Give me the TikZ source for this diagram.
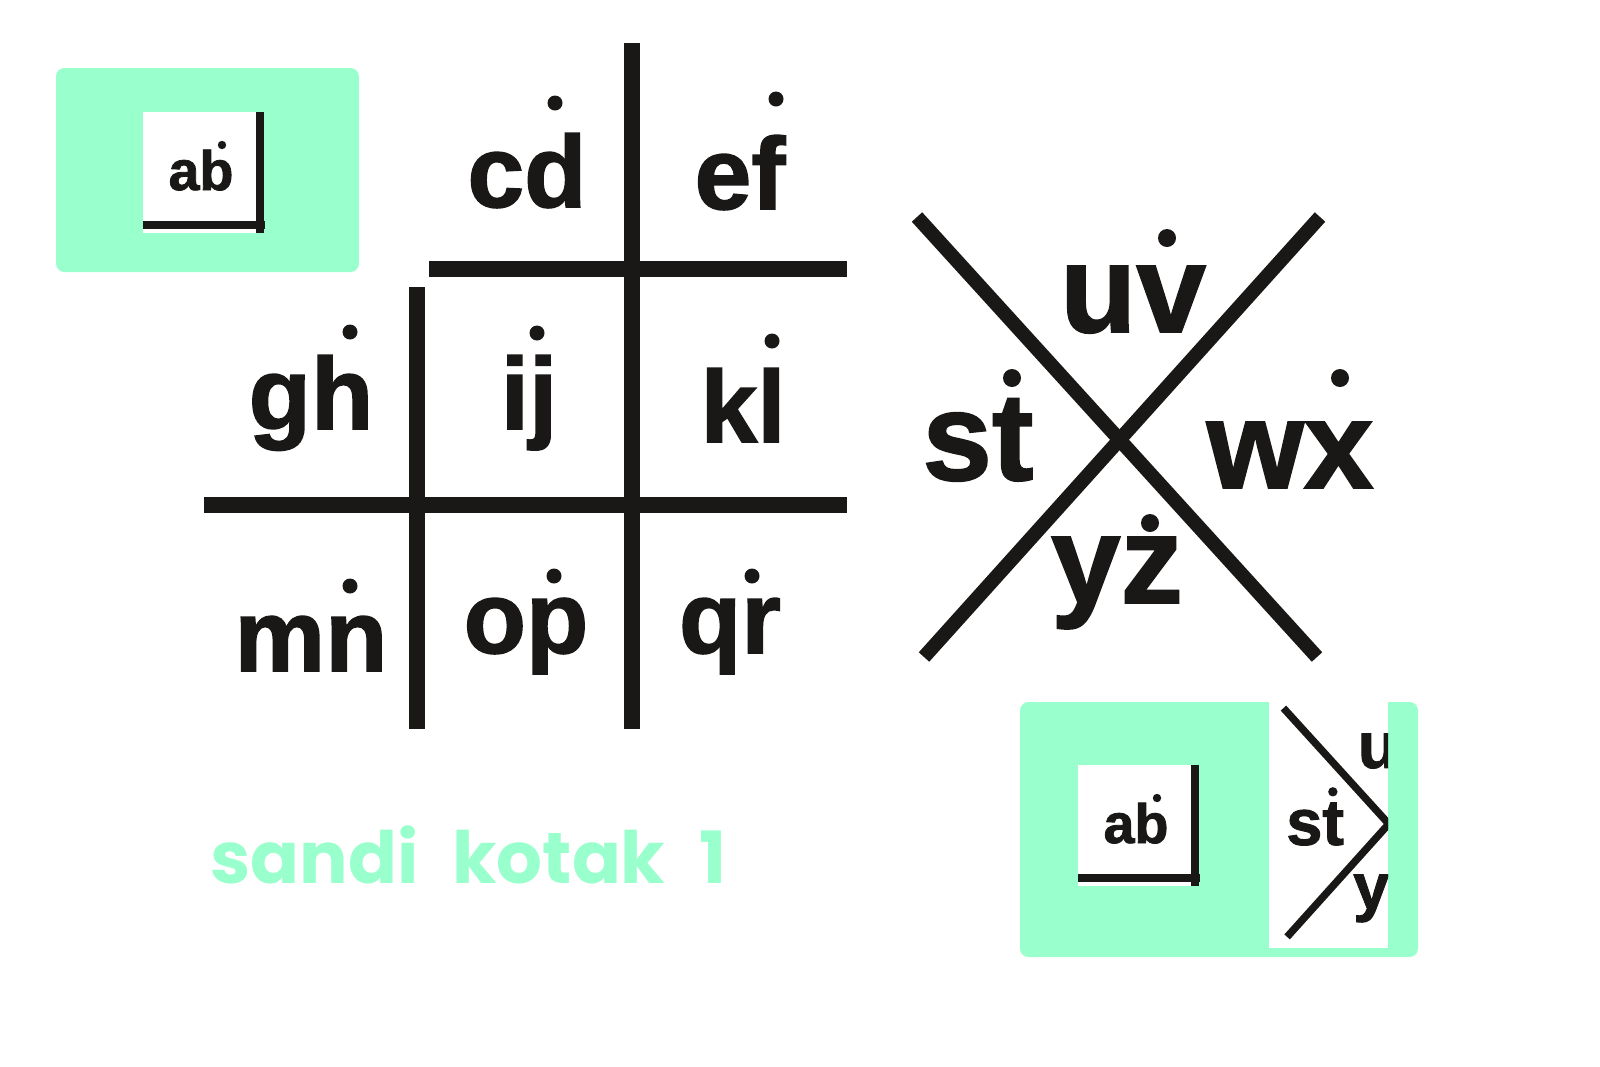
\documentclass[tikz,border=0pt]{standalone}
\usepackage{fontspec}
\setmainfont{Liberation Sans}[BoldFeatures={FakeBold=1.5}]
\newfontfamily\titlefont{Poppins}[WordSpace=2.2]
\usetikzlibrary{positioning}
\definecolor{skmint}{RGB}{153,255,204}
\definecolor{skblack}{RGB}{26,24,22}
\tikzset{
  bar/.style={line width=4.3pt, color=skblack},
  xbar/.style={line width=4pt, color=skblack},
  abbar/.style={line width=2.2pt, color=skblack},
  gridtxt/.style={anchor=base, inner sep=0pt, text=skblack, font=\bfseries\fontsize{29}{30}\selectfont},
  xtxt/.style={anchor=base, inner sep=0pt, text=skblack, font=\bfseries\fontsize{35.5}{36}\selectfont},
  abtxt/.style={anchor=base, inner sep=0pt, text=skblack, font=\bfseries\fontsize{15.8}{16}\selectfont},
  titletxt/.style={anchor=base west, inner sep=0pt, text=skmint, font=\titlefont\bfseries\fontsize{20.5}{21}\selectfont},
  greenbox/.style={fill=skmint, rounded corners=2.4pt},
  % white square with the ab letters
  pics/abbox/.style={code={
    \fill[white] (0,0) rectangle (121,121);
    \draw[abbar] (117,0) -- (117,121);
    \draw[abbar] (0,113) -- (122,113);
    \node[abtxt] (-txt) at (58,78) {ab};
    \fill[skblack] (79,33) circle (4.2);
  }},
  % the X with its four pairs
  pics/sandix/.style={code={
    \draw[xbar] (-203,-221) -- (197,219);
    \draw[xbar] (200,-221) -- (-196,219);
    \node[xtxt] (-uv) at (13,-106) {uv};
    \node[xtxt] (-st) at (-142,42) {st};
    \node[xtxt] (-wx) at (170,50) {wx};
    \node[xtxt] (-yz) at (-3,165) {yz};
    \fill[skblack] (47,-200) circle (9);
    \fill[skblack] (-108,-60) circle (9);
    \fill[skblack] (220,-60) circle (9);
    \fill[skblack] (30,85) circle (9);
  }},
}

\begin{document}
\begin{tikzpicture}[x=0.01cm, y=-0.01cm]
\useasboundingbox (0,0) rectangle (1600,1066);

% Top left example
\fill[greenbox] (56,68) rectangle (359,272);
\pic (abtop) at (143,112) {abbox};

% Grid
\draw[bar] (632,43) -- (632,729);
\draw[bar] (417,287) -- (417,729);
\draw[bar] (429,269) -- (847,269);
\draw[bar] (204,505) -- (847,505);

\node[gridtxt] (cd) at (527,207) {cd};
\node[gridtxt] (ef) at (740,209) {ef};
\node[gridtxt] (gh) at (311,429) {gh};
\node[gridtxt] (ij) at (529,429) {ij};
\node[gridtxt] (kl) at (743,442) {kl};
\node[gridtxt] (mn) at (311,671) {mn};
\node[gridtxt] (op) at (526,653) {op};
\node[gridtxt] (qr) at (730,653) {qr};

\fill[skblack] (555,103) circle (7.5);
\fill[skblack] (776,99) circle (7.5);
\fill[skblack] (350,332) circle (7.5);
\fill[skblack] (537,333) circle (7.5);
\fill[skblack] (772,341) circle (7.5);
\fill[skblack] (350,586) circle (7.5);
\fill[skblack] (554,576) circle (7.5);
\fill[skblack] (752,576) circle (7.5);

% X
\pic (xbig) at (1120,438) {sandix};

% Title
\node[titletxt] (title) at (210,883) {sandi kotak 1};

% Bottom right example
\fill[greenbox] (1020,702) rectangle (1418,957);
\fill[white] (1269,702) rectangle (1388,948);
\pic (abbottom) at (1078,765) {abbox};
\begin{scope}
\clip (1269,702) rectangle (1388,948);
\pic[scale=0.52, transform shape, xbar/.style={line width=2.1pt, color=skblack}] (xsmall) at (1389,823) {sandix};
\end{scope}
\end{tikzpicture}
\end{document}
